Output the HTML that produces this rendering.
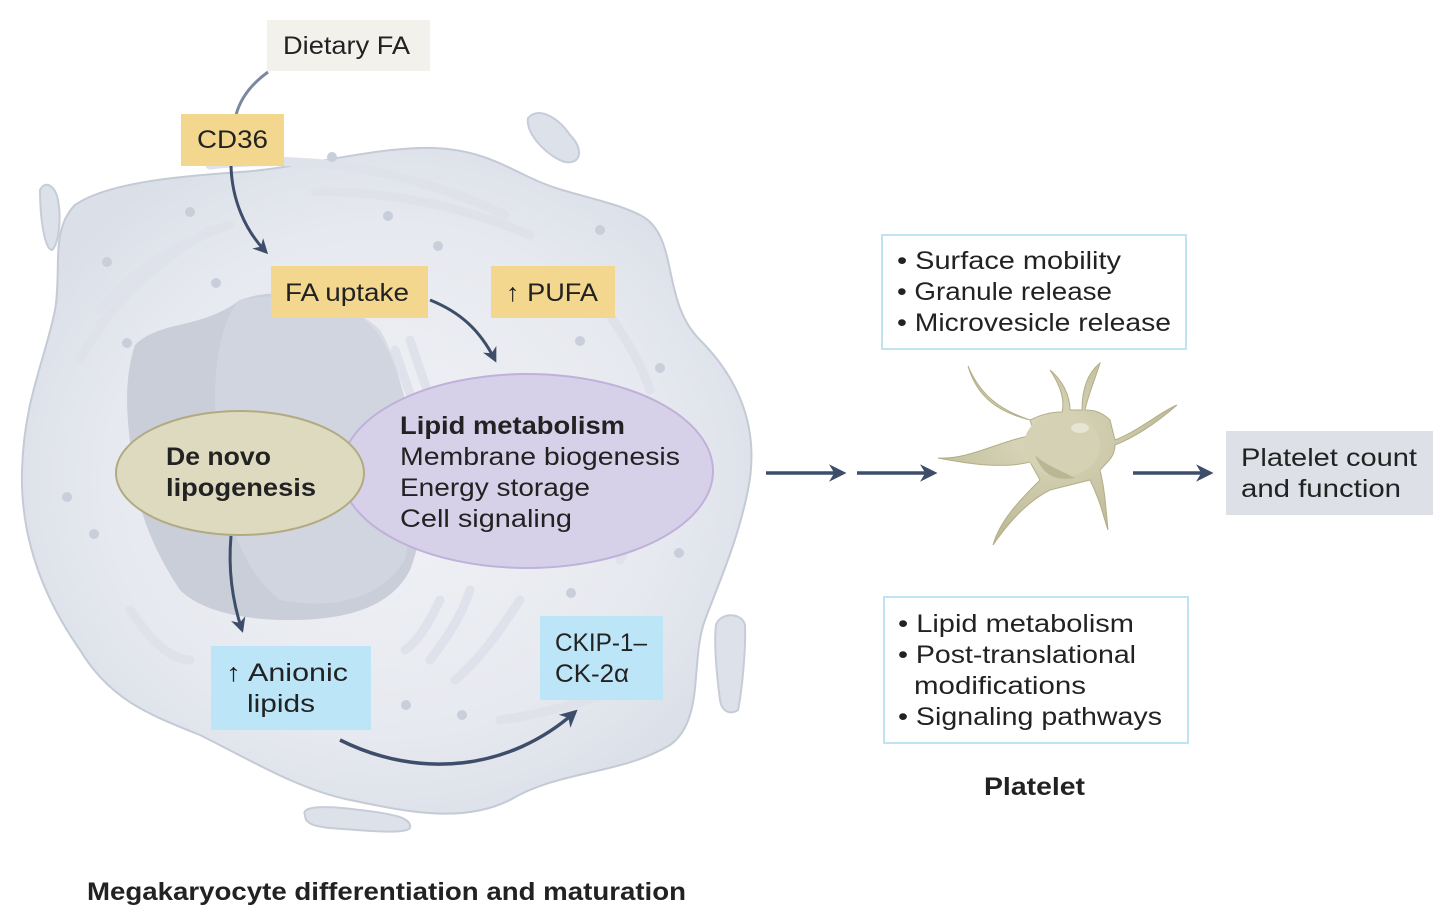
<!DOCTYPE html>
<html><head><meta charset="utf-8"><style>
html,body{margin:0;padding:0;background:#fff;}
svg{display:block;font-family:"Liberation Sans",sans-serif;}
</style></head><body>
<svg width="1433" height="923" viewBox="0 0 1433 923" xmlns="http://www.w3.org/2000/svg">
<defs>
<radialGradient id="cg" cx="0.5" cy="0.5" r="0.55">
<stop offset="0" stop-color="#f1f2f6"/><stop offset="0.7" stop-color="#e6e9ef"/><stop offset="1" stop-color="#dbdfe8"/>
</radialGradient>
<radialGradient id="pg" cx="0.45" cy="0.4" r="0.6">
<stop offset="0" stop-color="#dcd9bf"/><stop offset="1" stop-color="#bdb995"/>
</radialGradient>
<marker id="ah" viewBox="0 0 10 10" refX="8" refY="5" markerWidth="5" markerHeight="5" orient="auto"><path d="M0,0 L10,5 L0,10 L3,5z" fill="#3d4d6a"/></marker>
</defs>
<path d="M528,118 C540,105 560,120 570,135 C585,150 580,165 565,162 C550,158 525,135 528,118z" fill="#dde1e9" stroke="#c6ccd8" stroke-width="2"/>
<path d="M40,190 C45,180 55,185 58,200 C62,220 58,245 52,250 C45,250 40,220 40,190z" fill="#dde1e9" stroke="#c6ccd8" stroke-width="2"/>
<path d="M716,625 C720,612 742,612 745,625 C746,650 742,690 738,710 C730,715 722,712 720,700 C716,670 714,640 716,625z" fill="#dde1e9" stroke="#c6ccd8" stroke-width="2"/>
<path d="M305,815 C300,805 330,806 360,810 C395,814 412,818 410,828 C405,835 360,830 330,828 C310,826 305,822 305,815z" fill="#dde1e9" stroke="#c6ccd8" stroke-width="2"/>
<path d="M75,205 C110,180 200,175 240,172 C300,168 360,150 420,148 C480,146 510,170 540,182 C570,195 610,200 640,215 C680,235 660,300 700,340 C740,380 760,430 748,490 C738,540 720,580 705,620 C690,660 705,720 670,745 C620,775 560,770 510,800 C460,825 400,810 350,800 C300,790 250,760 200,735 C150,715 110,700 80,650 C45,600 20,540 22,470 C24,400 45,360 55,310 C62,270 50,230 75,205z" fill="url(#cg)" stroke="#c4cad6" stroke-width="2"/>
<g fill="none" stroke="#dfe2ea" stroke-width="9" stroke-linecap="round">
<path d="M210,165 C300,155 400,165 505,215"/>
<path d="M315,192 C380,190 460,205 530,235"/>
<path d="M80,360 C110,300 160,260 210,230"/>
<path d="M100,310 C140,260 200,235 230,225"/>
<path d="M410,340 C420,370 430,400 440,420"/>
<path d="M395,350 C405,380 412,400 420,420"/>
<path d="M130,610 C150,640 170,660 190,660"/>
<path d="M440,600 C430,620 420,640 405,650"/>
<path d="M470,590 C460,620 445,640 430,660"/>
<path d="M520,600 C500,630 480,660 455,680"/>
<path d="M600,300 C620,330 640,360 650,390"/>
<path d="M640,440 C650,480 640,520 620,560"/>
<path d="M500,720 C540,715 590,700 620,690"/>
</g>
<path d="M135,345 C160,320 200,330 240,300 C280,285 320,300 350,310 C390,330 400,380 410,420 C420,470 430,520 410,570 C390,610 340,620 290,620 C240,620 200,610 180,590 C160,560 140,520 135,480 C130,440 120,390 135,345z" fill="#c9ced9"/>
<path d="M240,300 C290,290 350,300 380,330 C410,380 420,480 405,560 C380,600 330,610 280,600 C230,560 215,480 215,400 C215,350 225,315 240,300z" fill="#d3d7e0" opacity="0.8"/>
<g fill="#c8ceda">
<circle cx="332" cy="157" r="5"/><circle cx="190" cy="212" r="5"/><circle cx="388" cy="216" r="5"/><circle cx="438" cy="246" r="5"/><circle cx="600" cy="230" r="5"/><circle cx="107" cy="262" r="5"/><circle cx="216" cy="283" r="5"/><circle cx="127" cy="343" r="5"/><circle cx="580" cy="341" r="5"/><circle cx="660" cy="368" r="5"/><circle cx="67" cy="497" r="5"/><circle cx="94" cy="534" r="5"/><circle cx="679" cy="553" r="5"/><circle cx="571" cy="593" r="5"/><circle cx="406" cy="705" r="5"/><circle cx="462" cy="715" r="5"/>
</g>
<rect x="267" y="20" width="163" height="51" fill="#f3f1ec"/>
<text x="283" y="54" font-size="25" fill="#222" textLength="127" lengthAdjust="spacingAndGlyphs">Dietary FA</text>
<path d="M268,72 C250,85 240,100 236,115" fill="none" stroke="#7c88a0" stroke-width="3"/>
<rect x="181" y="114" width="103" height="52" fill="#f3d78e"/>
<text x="197" y="148" font-size="25" fill="#222" textLength="71" lengthAdjust="spacingAndGlyphs">CD36</text>
<path d="M231,166 C232,200 245,230 266,252" fill="none" stroke="#3d4d6a" stroke-width="3" marker-end="url(#ah)"/>
<rect x="271" y="266" width="157" height="52" fill="#f3d78e"/>
<text x="285" y="301" font-size="25" fill="#222" textLength="124" lengthAdjust="spacingAndGlyphs">FA uptake</text>
<rect x="491" y="266" width="124" height="52" fill="#f3d78e"/>
<text x="506" y="301" font-size="25" fill="#222" textLength="92" lengthAdjust="spacingAndGlyphs">↑ PUFA</text>
<path d="M430,300 C460,312 480,330 495,360" fill="none" stroke="#3d4d6a" stroke-width="3" marker-end="url(#ah)"/>
<ellipse cx="527" cy="471" rx="186" ry="97" fill="#d6d1e8" stroke="#bfb1da" stroke-width="2"/>
<text x="400" y="434" font-size="25" font-weight="bold" fill="#222" textLength="225" lengthAdjust="spacingAndGlyphs">Lipid metabolism</text>
<text x="400" y="465" font-size="25" fill="#222" textLength="280" lengthAdjust="spacingAndGlyphs">Membrane biogenesis</text>
<text x="400" y="496" font-size="25" fill="#222" textLength="190" lengthAdjust="spacingAndGlyphs">Energy storage</text>
<text x="400" y="527" font-size="25" fill="#222" textLength="172" lengthAdjust="spacingAndGlyphs">Cell signaling</text>
<ellipse cx="240" cy="473" rx="124" ry="62" fill="#dedac0" stroke="#b2ab82" stroke-width="2"/>
<text x="166" y="465" font-size="25" font-weight="bold" fill="#222" textLength="105" lengthAdjust="spacingAndGlyphs">De novo</text>
<text x="166" y="496" font-size="25" font-weight="bold" fill="#222" textLength="150" lengthAdjust="spacingAndGlyphs">lipogenesis</text>
<path d="M231,536 C228,570 232,600 242,630" fill="none" stroke="#3d4d6a" stroke-width="3" marker-end="url(#ah)"/>
<rect x="211" y="646" width="160" height="84" fill="#bce5f7"/>
<text x="226" y="681" font-size="25" fill="#222" textLength="122" lengthAdjust="spacingAndGlyphs">↑ Anionic</text>
<text x="247" y="712" font-size="25" fill="#222" textLength="68" lengthAdjust="spacingAndGlyphs">lipids</text>
<rect x="540" y="616" width="123" height="84" fill="#bce5f7"/>
<text x="555" y="651" font-size="25" fill="#222" textLength="92" lengthAdjust="spacingAndGlyphs">CKIP-1–</text>
<text x="555" y="682" font-size="25" fill="#222" textLength="74" lengthAdjust="spacingAndGlyphs">CK-2α</text>
<path d="M340,740 C420,780 510,770 575,712" fill="none" stroke="#3d4d6a" stroke-width="3.5" marker-end="url(#ah)"/>
<text x="87" y="900" font-size="25" font-weight="bold" fill="#222" textLength="599" lengthAdjust="spacingAndGlyphs">Megakaryocyte differentiation and maturation</text>
<line x1="766" y1="473" x2="843" y2="473" stroke="#3d4d6a" stroke-width="3.5" marker-end="url(#ah)"/>
<line x1="857" y1="473" x2="934" y2="473" stroke="#3d4d6a" stroke-width="3.5" marker-end="url(#ah)"/>
<line x1="1133" y1="473" x2="1210" y2="473" stroke="#3d4d6a" stroke-width="3.5" marker-end="url(#ah)"/>
<g fill="url(#pg)" stroke="#b3ae88" stroke-width="1">
<path d="M968,366 C975,390 990,410 1030,420 L1035,435 C1000,440 970,460 938,458 C960,462 1000,470 1030,462 L1040,480 C1020,500 1000,520 993,545 C1010,520 1030,500 1050,490 L1090,480 C1100,500 1103,515 1108,530 C1106,510 1105,490 1100,470 C1110,460 1115,455 1115,445 C1140,435 1160,420 1177,405 C1160,412 1140,430 1115,440 L1110,420 C1100,410 1090,410 1085,410 C1088,395 1095,380 1100,363 C1085,375 1082,395 1082,410 L1070,410 C1070,395 1062,380 1050,370 C1060,385 1065,400 1062,412 C1045,412 1035,418 1030,420 C1000,410 980,395 968,366z"/>
</g>
<ellipse cx="1062" cy="445" rx="38" ry="32" fill="#d4d1b4"/>
<path d="M1035,455 C1045,480 1060,480 1075,478 C1060,470 1045,465 1035,455z" fill="#bab592"/>
<ellipse cx="1080" cy="428" rx="9" ry="5" fill="#e6e4d2"/>
<rect x="882" y="235" width="304" height="114" fill="#fff" stroke="#bfe3f3" stroke-width="2"/>
<text x="897" y="269" font-size="25" fill="#222" textLength="224" lengthAdjust="spacingAndGlyphs">• Surface mobility</text>
<text x="897" y="300" font-size="25" fill="#222" textLength="215" lengthAdjust="spacingAndGlyphs">• Granule release</text>
<text x="897" y="331" font-size="25" fill="#222" textLength="274" lengthAdjust="spacingAndGlyphs">• Microvesicle release</text>
<rect x="884" y="597" width="304" height="146" fill="#fff" stroke="#bfe3f3" stroke-width="2"/>
<text x="898" y="632" font-size="25" fill="#222" textLength="236" lengthAdjust="spacingAndGlyphs">• Lipid metabolism</text>
<text x="898" y="663" font-size="25" fill="#222" textLength="238" lengthAdjust="spacingAndGlyphs">• Post-translational</text>
<text x="914" y="694" font-size="25" fill="#222" textLength="172" lengthAdjust="spacingAndGlyphs">modifications</text>
<text x="898" y="725" font-size="25" fill="#222" textLength="264" lengthAdjust="spacingAndGlyphs">• Signaling pathways</text>
<text x="984" y="795" font-size="25" font-weight="bold" fill="#222" textLength="101" lengthAdjust="spacingAndGlyphs">Platelet</text>
<rect x="1226" y="431" width="207" height="84" fill="#dde1e7"/>
<text x="1241" y="466" font-size="25" fill="#222" textLength="176" lengthAdjust="spacingAndGlyphs">Platelet count</text>
<text x="1241" y="497" font-size="25" fill="#222" textLength="160" lengthAdjust="spacingAndGlyphs">and function</text>
</svg>
</body></html>
